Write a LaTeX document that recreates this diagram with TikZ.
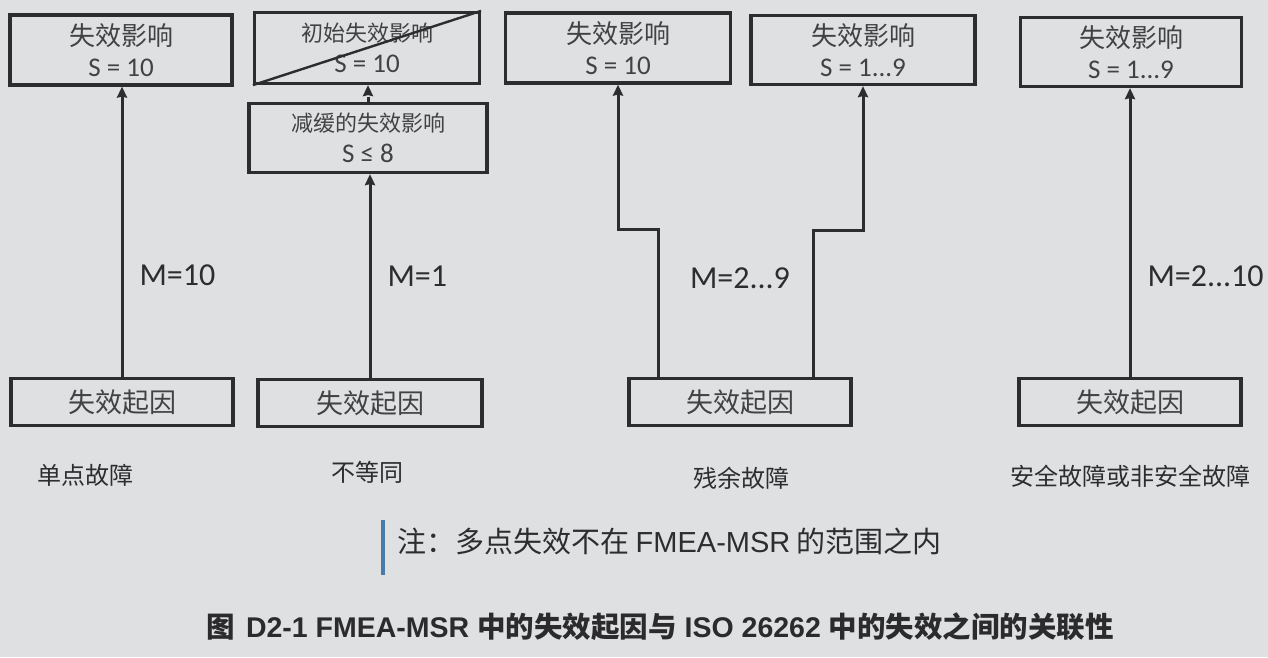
\documentclass[tikz,border=0pt]{standalone}
\usepackage{fontspec}
\setmainfont{Carlito}
\newfontfamily\cjk{Noto Sans CJK SC}
\newfontfamily\capfont{Liberation Sans}
\usetikzlibrary{arrows.meta}
\definecolor{paper}{RGB}{223,224,226}
\definecolor{ink}{RGB}{45,45,47}
\definecolor{notebar}{RGB}{72,122,170}
\tikzstyle{effbox} = [draw=ink,line width=3.2pt,minimum width=222pt,minimum height=70pt,
    inner sep=0pt,align=center,text=ink!90,font=\fontsize{27pt}{31pt}\selectfont]
\tikzstyle{causebox} = [effbox,minimum height=47pt]
\tikzstyle{arr} = [draw=ink,line width=3pt,-{Stealth[length=11pt,width=10pt,inset=1pt]}]
\tikzstyle{mlabel} = [inner sep=0pt,text=ink,font=\fontsize{32pt}{32pt}\selectfont]
\tikzstyle{mtag} = [mlabel,anchor=west,xshift=16pt]
\tikzstyle{kind} = [inner sep=0pt,text=ink,font=\fontsize{24pt}{24pt}\selectfont\cjk]
\newcommand{\effecttext}[2]{
    {\fontsize{26pt}{31pt}\selectfont\cjk #1}\\#2
}
\newcommand{\smalleffecttext}[2]{
    {\fontsize{22pt}{30pt}\selectfont\cjk #1}\\#2
}
\begin{document}
\begin{tikzpicture}[x=1pt,y=-1pt]
    \fill[paper] (0,0) rectangle (1268,657);
    \useasboundingbox (0,0) rectangle (1268,657);

    % single point fault
    \node(eff1) at (121,50) [effbox] {\effecttext{失效影响}{S = 10}};
    \node(cause1) at (122,402) [causebox] {\cjk 失效起因};
    \draw[arr] (cause1.north) -- (cause1.north |- eff1.south) node[mtag,pos=0.35] {M=10};
    \node(kind1) at (85,475) [kind] {单点故障};

    % not equal
    \node(init2) at (367,48) [effbox,minimum width=225pt,minimum height=71pt] {\smalleffecttext{初始失效影响}{S = 10}};
    \draw[ink,line width=2.4pt] (init2.south west) -- (init2.north east);
    \node(mit2) at (368,138) [effbox,minimum width=238pt,minimum height=69pt] {\smalleffecttext{减缓的失效影响}{S ≤ 8}};
    \node(cause2) at (370,403) [causebox,minimum width=224pt] {\cjk 失效起因};
    \draw[arr] (cause2.north) -- (cause2.north |- mit2.south) node[mtag,pos=0.5] {M=1};
    \draw[arr,dash pattern=on 5pt off 3pt] (mit2.north) -- (mit2.north |- init2.south);
    \node(kind2) at (367,472) [kind] {不等同};

    % residual fault
    \node(effA) at (618,48) [effbox,minimum width=225pt] {\effecttext{失效影响}{S = 10}};
    \node(effB) at (863,50) [effbox,minimum width=224pt,minimum height=69pt] {\effecttext{失效影响}{S = 1...9}};
    \node(cause3) at (740,402) [causebox] {\cjk 失效起因};
    \draw[arr] ([xshift=-82pt]cause3.north) -- ++(0,-147) -| (effA.south);
    \draw[arr] ([xshift=73pt]cause3.north) -- ++(0,-146) -| (effB.south);
    \node(m3) at (740,278) [mlabel] {M=2...9};
    \node(kind3) at (741,478) [kind] {残余故障};

    % safe or unsafe fault
    \node(eff4) at (1131,52) [effbox,minimum width=221pt,minimum height=69pt] {\effecttext{失效影响}{S = 1...9}};
    \node(cause4) at (1130,402) [causebox] {\cjk 失效起因};
    \draw[arr] (cause4.north) -- (cause4.north |- eff4.south) node[mtag,pos=0.35] {M=2...10};
    \node(kind4) at (1130,476) [kind] {安全故障或非安全故障};

    % note and caption
    \draw[notebar,line width=4pt] (383,520) -- (383,575);
    \node(note) at (397,541) [anchor=west,inner sep=0pt,text=ink,font=\fontsize{29pt}{29pt}\selectfont]
        {{\cjk 注：多点失效不在 }{\capfont FMEA-MSR}{\cjk\ 的范围之内}};
    \node(caption) at (660,627) [inner sep=0pt,text=ink!95!black,font=\fontsize{28.5pt}{28.5pt}\selectfont\bfseries]
        {{\cjk 图}\hspace{0.4em}{\capfont D2-1 FMEA-MSR }{\cjk 中的失效起因与}{\capfont\ ISO 26262 }{\cjk 中的失效之间的关联性}};
\end{tikzpicture}
\end{document}
